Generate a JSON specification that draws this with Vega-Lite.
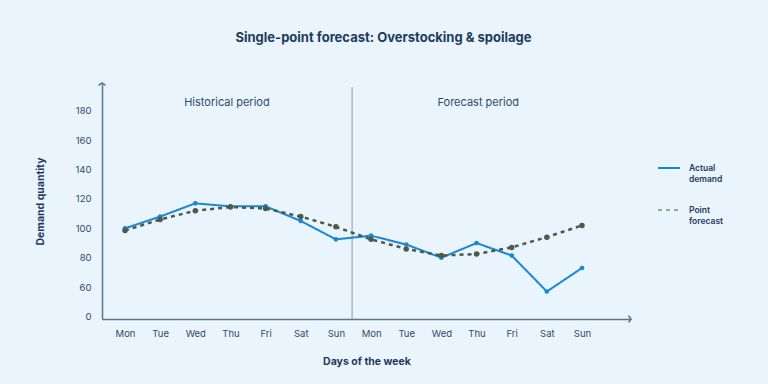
{
  "$schema": "https://vega.github.io/schema/vega-lite/v6.json",
  "autosize": "none",
  "width": 529,
  "height": 236,
  "padding": {"left": 102, "top": 83, "right": 137, "bottom": 65},
  "background": "#EAF4FD",
  "config": {
    "font": "Inter",
    "view": {"stroke": null},
    "axis": {"grid": false, "ticks": false, "labelOverlap": false, "domainColor": "#5a7590", "domainWidth": 1.5, "labelColor": "#2d4a68", "labelFontSize": 9.5, "titleColor": "#1d3b5c", "titleFontSize": 10.5, "titleFontWeight": "bold"}
  },
  "title": {"text": "Single-point forecast: Overstocking & spoilage", "fontSize": 13, "fontWeight": "bold", "color": "#1d3b5c", "anchor": "middle", "frame": "group", "dx": 17, "offset": 35, "font": "Inter"},
  "data": {"values": [
    {"t": 1, "day": "Mon", "series": "Actual demand", "value": 100},
    {"t": 2, "day": "Tue", "series": "Actual demand", "value": 108},
    {"t": 3, "day": "Wed", "series": "Actual demand", "value": 117},
    {"t": 4, "day": "Thu", "series": "Actual demand", "value": 115},
    {"t": 5, "day": "Fri", "series": "Actual demand", "value": 115},
    {"t": 6, "day": "Sat", "series": "Actual demand", "value": 105},
    {"t": 7, "day": "Sun", "series": "Actual demand", "value": 92.5},
    {"t": 8, "day": "Mon", "series": "Actual demand", "value": 95},
    {"t": 9, "day": "Tue", "series": "Actual demand", "value": 89},
    {"t": 10, "day": "Wed", "series": "Actual demand", "value": 80},
    {"t": 11, "day": "Thu", "series": "Actual demand", "value": 90},
    {"t": 12, "day": "Fri", "series": "Actual demand", "value": 81.5},
    {"t": 13, "day": "Sat", "series": "Actual demand", "value": 57},
    {"t": 14, "day": "Sun", "series": "Actual demand", "value": 73},
    {"t": 1, "day": "Mon", "series": "Point forecast", "value": 98.5},
    {"t": 2, "day": "Tue", "series": "Point forecast", "value": 106},
    {"t": 3, "day": "Wed", "series": "Point forecast", "value": 112},
    {"t": 4, "day": "Thu", "series": "Point forecast", "value": 114.5},
    {"t": 5, "day": "Fri", "series": "Point forecast", "value": 113.5},
    {"t": 6, "day": "Sat", "series": "Point forecast", "value": 108},
    {"t": 7, "day": "Sun", "series": "Point forecast", "value": 101},
    {"t": 8, "day": "Mon", "series": "Point forecast", "value": 92.5},
    {"t": 9, "day": "Tue", "series": "Point forecast", "value": 86},
    {"t": 10, "day": "Wed", "series": "Point forecast", "value": 81.5},
    {"t": 11, "day": "Thu", "series": "Point forecast", "value": 82.5},
    {"t": 12, "day": "Fri", "series": "Point forecast", "value": 87},
    {"t": 13, "day": "Sat", "series": "Point forecast", "value": 94},
    {"t": 14, "day": "Sun", "series": "Point forecast", "value": 102}
  ]},
  "layer": [
    {
      "data": {"values": [{}]},
      "mark": {"type": "rule", "color": "#8d9caa", "strokeWidth": 1},
      "encoding": {
        "x": {"datum": 7.46, "type": "quantitative", "scale": {"domain": [0.346, 15.394], "nice": false, "zero": false},
          "axis": {"values": [1,2,3,4,5,6,7,8,9,10,11,12,13,14], "tickCount": 20, "labelExpr": "['Mon','Tue','Wed','Thu','Fri','Sat','Sun'][(datum.value - 1) % 7]", "labelPadding": 9, "labelFlush": false, "labelOverlap": false, "title": "Days of the week", "titlePadding": 19}},
        "y": {"datum": 196, "type": "quantitative", "scale": {"domain": [38.3, 198.9], "nice": false, "zero": false},
          "axis": {"values": [40, 60, 80, 100, 120, 140, 160, 180], "tickCount": 12, "labelExpr": "datum.value == 40 ? '0' : '' + datum.value", "labelPadding": 11, "labelOverlap": false, "labelFlush": false, "title": "Demand quantity", "titlePadding": 30}},
        "y2": {"datum": 38.3}
      }
    },
    {
      "data": {"values": [{}]},
      "mark": {"type": "text", "fontSize": 11, "color": "#2d4a68", "font": "Inter"},
      "encoding": {
        "x": {"datum": 3.9, "type": "quantitative"},
        "y": {"datum": 185.3, "type": "quantitative"},
        "text": {"value": "Historical period"}
      }
    },
    {
      "data": {"values": [{}]},
      "mark": {"type": "text", "fontSize": 11, "color": "#2d4a68", "font": "Inter"},
      "encoding": {
        "x": {"datum": 11.05, "type": "quantitative"},
        "y": {"datum": 185.3, "type": "quantitative"},
        "text": {"value": "Forecast period"}
      }
    },
    {
      "data": {"values": [{}]},
      "mark": {"type": "point", "shape": "M-1,0.7L0,0L1,0.7", "filled": false, "stroke": "#5a7590", "strokeWidth": 1.5, "size": 50, "opacity": 1},
      "encoding": {
        "x": {"datum": 0.346, "type": "quantitative"},
        "y": {"datum": 198.9, "type": "quantitative"}
      }
    },
    {
      "data": {"values": [{}]},
      "mark": {"type": "point", "shape": "M-0.7,-1L0,0L-0.7,1", "filled": false, "stroke": "#5a7590", "strokeWidth": 1.5, "size": 50, "opacity": 1},
      "encoding": {
        "x": {"datum": 15.394, "type": "quantitative"},
        "y": {"datum": 38.3, "type": "quantitative"}
      }
    },
    {
      "transform": [{"filter": "datum.series == 'Actual demand'"}],
      "mark": {"type": "line", "strokeWidth": 2, "point": {"filled": true, "size": 22}},
      "encoding": {
        "x": {"field": "t", "type": "quantitative"},
        "y": {"field": "value", "type": "quantitative"},
        "color": {"field": "series", "type": "nominal", "scale": {"domain": ["Actual demand", "Point forecast"], "range": ["#1a87d4", "#86b586"]},
          "legend": {"title": null, "orient": "none", "legendX": 555, "legendY": 73, "symbolType": "stroke", "symbolSize": 484, "symbolStrokeWidth": 2, "labelOffset": 8, "rowPadding": 15, "labelFontSize": 8.5, "labelFontWeight": 600, "labelColor": "#1d3b5c", "labelExpr": "split(datum.label, ' ')", "labelBaseline": "top",
            "encode": {"labels": {"update": {"dy": {"value": -4}}}}}},
        "strokeDash": {"field": "series", "type": "nominal", "scale": {"domain": ["Actual demand", "Point forecast"], "range": [[1, 0], [4, 4]]}, "legend": null}
      }
    },
    {
      "transform": [{"filter": "datum.series == 'Point forecast'"}],
      "mark": {"type": "line", "strokeWidth": 2.5, "color": "#4b5a4c", "point": {"filled": true, "size": 30, "color": "#4b5a4c"}},
      "encoding": {
        "x": {"field": "t", "type": "quantitative"},
        "y": {"field": "value", "type": "quantitative"},
        "strokeDash": {"field": "series", "type": "nominal"}
      }
    }
  ]
}
